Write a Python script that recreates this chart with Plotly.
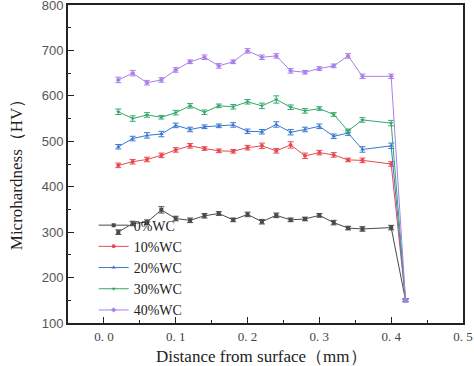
import plotly.graph_objects as go

distance = [0.02, 0.04, 0.06, 0.08, 0.10, 0.12, 0.14, 0.16, 0.18, 0.20,
            0.22, 0.24, 0.26, 0.28, 0.30, 0.32, 0.34, 0.36, 0.40, 0.42]

wc0 = [300, 319, 322, 349, 330, 326, 336, 341, 327, 339,
       323, 337, 327, 329, 337, 321, 309, 307, 310, 150]
wc10 = [447, 455, 460, 469, 481, 490, 484, 479, 478, 486,
        490, 479, 492, 468, 475, 470, 459, 458, 450, 150]
wc20 = [488, 506, 513, 516, 535, 526, 532, 534, 536, 522,
        521, 537, 520, 526, 533, 511, 518, 482, 490, 150]
wc30 = [565, 550, 558, 553, 563, 578, 564, 578, 576, 587,
        578, 592, 575, 567, 572, 559, 523, 547, 540, 150]
wc40 = [635, 650, 629, 635, 657, 675, 685, 666, 675, 699,
        685, 688, 655, 652, 660, 666, 688, 643, 643, 150]

err0 = [5, 5, 5, 7, 5, 5, 5, 4, 4, 5, 5, 5, 4, 4, 4, 5, 4, 5, 5, 3]
err10 = [5, 5, 5, 5, 5, 5, 4, 4, 4, 5, 6, 5, 7, 6, 5, 5, 4, 5, 5, 3]
err20 = [5, 5, 6, 6, 5, 5, 4, 4, 5, 5, 5, 6, 6, 5, 5, 5, 5, 6, 6, 3]
err30 = [6, 6, 5, 4, 5, 5, 5, 4, 5, 5, 6, 8, 5, 5, 4, 4, 4, 5, 6, 3]
err40 = [6, 6, 5, 5, 5, 4, 5, 5, 4, 5, 5, 5, 5, 4, 4, 4, 5, 5, 5, 3]

labels = ["0%WC", "10%WC", "20%WC", "30%WC", "40%WC"]
colors = ["#4a4a4a", "#e84a52", "#3a78d0", "#35a86a", "#ab80ea"]
symbols = ["square", "circle", "triangle-up", "triangle-down", "diamond"]
series = [wc0, wc10, wc20, wc30, wc40]
errors = [err0, err10, err20, err30, err40]

x_tickvals = [0.0, 0.1, 0.2, 0.3, 0.4, 0.5]
x_ticktext = ["0. 0", "0. 1", "0. 2", "0. 3", "0. 4", "0. 5"]
y_tickvals = [100, 200, 300, 400, 500, 600, 700, 800]
x_title = "Distance from surface（mm）"
y_title = "Microhardness（HV）"

fig = go.Figure()
for lab, col, sym, ys, er in zip(labels, colors, symbols, series, errors):
    fig.add_trace(go.Scatter(
        x=distance, y=ys, name=lab, mode="lines+markers",
        line=dict(color=col, width=1),
        marker=dict(symbol=sym, size=4, color=col),
        error_y=dict(type="data", array=er, visible=True, color=col,
                     thickness=1, width=3),
    ))

serif = "Liberation Serif"

fig.update_layout(
    width=474, height=366,
    margin=dict(l=68, r=11, t=5, b=43),
    paper_bgcolor="white", plot_bgcolor="white",
    showlegend=True,
    legend=dict(
        x=0.065, y=-0.008, xanchor="left", yanchor="bottom",
        bgcolor="rgba(0,0,0,0)", borderwidth=0,
        font=dict(family=serif, size=14, color="#222"),
        tracegroupgap=0, itemwidth=30,
    ),
    annotations=[
        dict(text=x_title, xref="paper", yref="paper", x=0.49, y=-0.105,
             xanchor="center", yanchor="middle", showarrow=False,
             font=dict(family=serif, size=17, color="#222")),
        dict(text=y_title, xref="paper", yref="paper", x=-0.132, y=0.48,
             xanchor="center", yanchor="middle", showarrow=False, textangle=-90,
             font=dict(family=serif, size=17, color="#222")),
    ],
)

fig.update_xaxes(
    range=[-0.05, 0.5], tickvals=x_tickvals, ticktext=x_ticktext,
    automargin=False, ticklabeloverflow="allow",
    ticks="inside", ticklen=6, tickwidth=1.2, tickcolor="#222",
    minor=dict(ticks="inside", ticklen=3, dtick=0.05, tickcolor="#222"),
    showline=True, linecolor="#222", linewidth=2, mirror=True,
    showgrid=False, zeroline=False,
    tickfont=dict(family=serif, size=13, color="#444"),
)
fig.update_yaxes(
    range=[100, 800], tickvals=y_tickvals,
    automargin=False, ticklabeloverflow="allow",
    ticks="inside", ticklen=6, tickwidth=1.2, tickcolor="#222",
    minor=dict(ticks="inside", ticklen=3, dtick=50, tickcolor="#222"),
    showline=True, linecolor="#222", linewidth=2, mirror=True,
    showgrid=False, zeroline=False,
    tickfont=dict(family="Liberation Sans", size=13, color="#555"),
)

fig.write_html(
    "out.html",
    config={"displayModeBar": False},
    post_script="document.body.style.margin='0';document.body.style.overflow='hidden';",
)
